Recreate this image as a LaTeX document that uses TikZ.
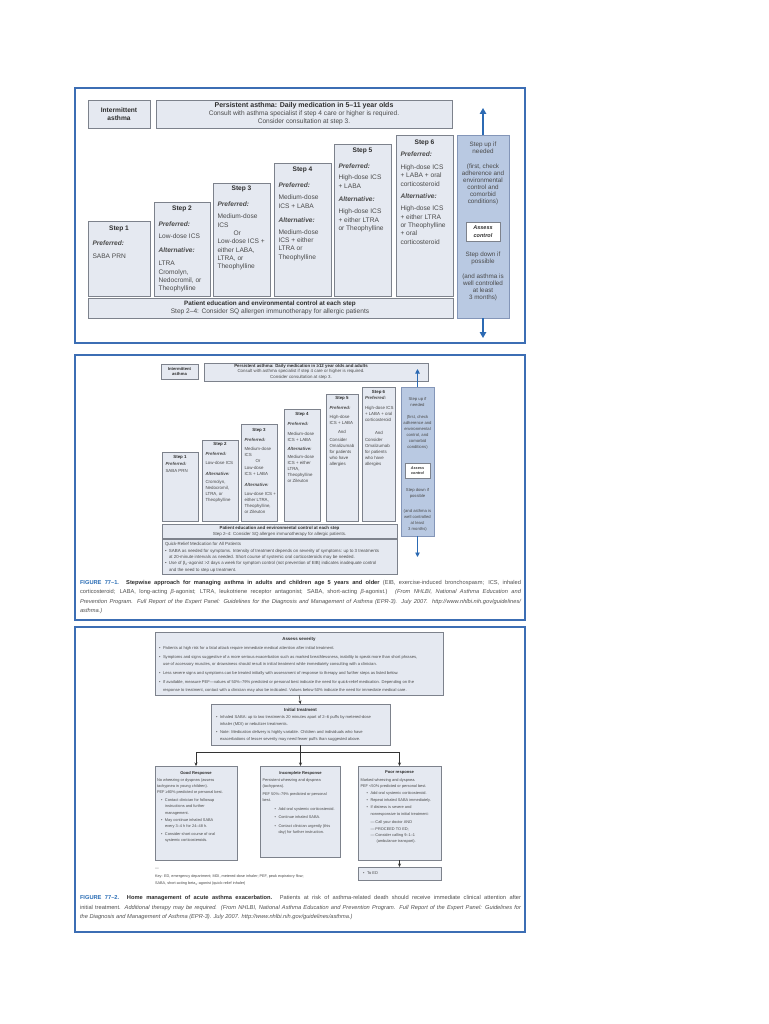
\documentclass[tikz,border=0pt]{standalone}
\usepackage{fontspec}
\setmainfont{Liberation Sans}
\usetikzlibrary{arrows.meta}
\definecolor{panelblue}{HTML}{3C6EB4}
\definecolor{arrowblue}{HTML}{2C6AB3}
\definecolor{boxfill}{HTML}{E5E9F1}
\definecolor{boxline}{HTML}{7D828C}
\definecolor{colfill}{HTML}{B9C9E2}
\definecolor{colline}{HTML}{8496B8}
\definecolor{txt}{HTML}{4A4A4A}
\definecolor{dtxt}{HTML}{2E2E2E}
\definecolor{captxt}{HTML}{505050}
\definecolor{figblue}{HTML}{2A6DB5}
\definecolor{conn}{HTML}{333333}
\newcommand{\fz}[2]{\fontsize{#1pt}{#2pt}\selectfont}
\newcommand{\bx}[6]{\node[#2,anchor=north west,minimum width={(#5-#3)*1pt},minimum height={(#6-#4)*1pt}] (#1) at (#3,#4) {};}
\newcommand{\prefx}{\textbf{\textit{Preferred:}}}
\newcommand{\altx}{\textbf{\textit{Alternative:}}}
\newcommand{\bul}{\makebox[4pt][l]{•}}
\begin{document}
\begin{tikzpicture}[x=1pt,y=-1pt,
 every node/.style={inner sep=0pt,outer sep=0pt,text=txt},
 panel/.style={draw=panelblue,line width=1.1pt},
 gbox/.style={draw=boxline,fill=boxfill,line width=0.8pt},
 gboxs/.style={draw=boxline,fill=boxfill,line width=0.6pt},
 colbox/.style={draw=colline,fill=colfill,line width=0.8pt},
 wbox/.style={draw=boxline,fill=white,line width=0.6pt},
 hdA/.style={font=\fz{6.6}{8.3}\bfseries,text=dtxt},
 bodyA/.style={anchor=north west,align=left,font=\fz{6.6}{8.3}},
 hdB/.style={font=\fz{4.4}{6}\bfseries,text=dtxt},
 bodyB/.style={anchor=north west,align=left,font=\fz{4.4}{6}},
 hdC/.style={font=\fz{4.4}{5}\bfseries,text=dtxt},
 hdD/.style={font=\fz{4.1}{5}\bfseries,text=dtxt},
 bodyD/.style={anchor=north west,align=left,font=\fz{3.9}{6.4}},
 bigarrow/.style={draw=arrowblue,line width=1.3pt,-{Triangle[length=6pt,width=6.5pt]}},
 medarrow/.style={draw=arrowblue,line width=0.9pt,-{Triangle[length=4.5pt,width=4.5pt]}},
 smallarrow/.style={draw=conn,line width=0.5pt,-{Stealth[length=3.5pt,width=3pt]}},
 thinline/.style={draw=conn,line width=0.5pt},
 captext/.style={anchor=north west,text width=441pt,align=justify,font=\fz{5.7}{9.4},text=captxt}
]
\fill[white] (0,0) rectangle (768,1024);
\useasboundingbox (0,0) rectangle (768,1024);

% ================= Panel 1 =================
\bx{p1}{panel}{75}{88}{525}{343}
\bx{int1}{gbox}{88}{100}{150}{128}
\node[font=\fz{6.6}{8}\bfseries,text=dtxt,align=center] (int1t) at (119,114) {Intermittent\\asthma};
\bx{per1}{gbox}{156}{100}{452}{128}
\node[align=center,font=\fz{6.6}{8}] (per1t) at (304,113.5) {{\fz{7}{8}\bfseries\color{dtxt}Persistent asthma: Daily medication in 5–11 year olds}\\Consult with asthma specialist if step 4 care or higher is required.\\Consider consultation at step 3.};

\bx{s1}{gbox}{88}{221}{150}{296}
\bx{s2}{gbox}{154}{202}{210}{296}
\bx{s3}{gbox}{213}{183}{270}{296}
\bx{s4}{gbox}{274}{163}{331}{296}
\bx{s5}{gbox}{334}{144}{391}{296}
\bx{s6}{gbox}{396}{135}{453}{296}
\bx{edu1}{gbox}{88}{298}{453}{318}
\bx{col1}{colbox}{457}{135}{509}{318}
\bx{ac1}{wbox}{466}{222}{500}{241}

\node[hdA] (s1h) at (119,229) {Step 1};
\node[hdA] (s2h) at (182,209) {Step 2};
\node[hdA] (s3h) at (241.5,189) {Step 3};
\node[hdA] (s4h) at (302.5,170) {Step 4};
\node[hdA] (s5h) at (362.5,151) {Step 5};
\node[hdA] (s6h) at (424.5,143) {Step 6};

\node[bodyA] (s1b) at (92.5,241.2) {\prefx\\[4.7pt]SABA PRN};
\node[bodyA] (s2b) at (158.5,222.2) {\prefx\\[3.7pt]Low-dose ICS\\[5.7pt]\altx\\[4.7pt]LTRA\\Cromolyn,\\Nedocromil, or\\Theophylline};
\node[bodyA] (s3b) at (217.5,202.2) {\prefx\\[3.7pt]Medium-dose\\ICS\\\hspace*{16pt}Or\\Low-dose ICS +\\either LABA,\\LTRA, or\\Theophylline};
\node[bodyA] (s4b) at (278.5,183.2) {\prefx\\[3.7pt]Medium-dose\\ICS + LABA\\[5.7pt]\altx\\[3.7pt]Medium-dose\\ICS + either\\LTRA or\\Theophylline};
\node[bodyA] (s5b) at (338.5,164.2) {\prefx\\[2.7pt]High-dose ICS\\+ LABA\\[5.4pt]\altx\\[3.7pt]High-dose ICS\\+ either LTRA\\or Theophylline};
\node[bodyA] (s6b) at (400.5,152.2) {\prefx\\[4.2pt]High-dose ICS\\+ LABA + oral\\corticosteroid\\[4.6pt]\altx\\[3.7pt]High-dose ICS\\+ either LTRA\\or Theophylline\\+ oral\\corticosteroid};

\node[align=center,font=\fz{6.6}{8.5}] (edu1t) at (270,307.8) {{\fz{6.3}{8.5}\bfseries\color{dtxt}Patient education and environmental control at each step}\\Step 2–4: Consider SQ allergen immunotherapy for allergic patients};

\node[anchor=north,align=center,font=\fz{6.3}{7}] (col1a) at (483,142.3) {Step up if\\needed\\[8pt](first, check\\adherence and\\environmental\\control and\\comorbid\\conditions)};
\node[font=\fz{5.5}{7.5}\bfseries\itshape,text=dtxt,align=center] (ac1t) at (483,231.5) {Assess\\control};
\node[anchor=north,align=center,font=\fz{6.3}{7}] (col1b) at (483,252.3) {Step down if\\possible\\[8pt](and asthma is\\well controlled\\at least\\3 months)};
\coordinate (up1) at (483,108);
\coordinate (dn1) at (483,338);
\draw[bigarrow] (col1.north) -- (up1);
\draw[bigarrow] (col1.south) -- (dn1);

% ================= Panel 2 =================
\bx{p2}{panel}{75}{355}{525}{620}
\bx{int2}{gboxs}{161}{364}{198}{379}
\node[font=\fz{4.2}{5.6}\bfseries,text=dtxt,align=center] (int2t) at (179.5,371.5) {Intermittent\\asthma};
\bx{per2}{gboxs}{204}{363}{428}{381}
\node[align=center,font=\fz{4.4}{5.5}] (per2t) at (301,371.5) {{\bfseries\color{dtxt}Persistent asthma: Daily medication in ≥12 year olds and adults}\\Consult with asthma specialist if step 4 care or higher is required.\\Consider consultation at step 3.};

\bx{m1}{gboxs}{162}{452}{198}{521}
\bx{m2}{gboxs}{202}{440}{238}{521}
\bx{m3}{gboxs}{241}{424}{277}{521}
\bx{m4}{gboxs}{284}{409}{320}{521}
\bx{m5}{gboxs}{326}{394}{358}{521}
\bx{m6}{gboxs}{362}{387}{395}{521}
\bx{edu2}{gboxs}{162}{524}{397}{538}
\bx{qr2}{gboxs}{162}{539}{397}{574}
\bx{col2}{colbox}{401}{387}{434}{536}
\bx{ac2}{wbox}{405}{463}{430}{478}

\node[hdB] (m1h) at (180,457) {Step 1};
\node[hdB] (m2h) at (220,444.5) {Step 2};
\node[hdB] (m3h) at (259,430) {Step 3};
\node[hdB] (m4h) at (302,414) {Step 4};
\node[hdB] (m5h) at (342,398.5) {Step 5};
\node[hdB] (m6h) at (378.5,392) {Step 6};

\node[bodyB] (m1b) at (165.5,462.6) {\prefx\\[0.5pt]SABA PRN};
\node[bodyB] (m2b) at (205.5,452.1) {\prefx\\[3.5pt]Low-dose ICS\\[4.5pt]\altx\\[2.5pt]Cromolyn,\\Nedocromil,\\LTRA, or\\Theophylline};
\node[bodyB] (m3b) at (244.5,438.1) {\prefx\\[3pt]Medium-dose\\ICS\\\hspace*{11pt}Or\\[1.5pt]Low-dose\\ICS + LABA\\[5pt]\altx\\[3pt]Low-dose ICS +\\either LTRA,\\Theophylline,\\or Zileuton};
\node[bodyB] (m4b) at (287.5,422.1) {\prefx\\[4pt]Medium-dose\\ICS + LABA\\[3pt]\altx\\[2.5pt]Medium-dose\\ICS + either\\LTRA,\\Theophylline\\or Zileuton};
\node[bodyB] (m5b) at (329.5,406.1) {\prefx\\[3.5pt]High-dose\\ICS + LABA\\[3pt]\hspace*{8.5pt}And\\[1.5pt]Consider\\Omalizumab\\for patients\\who have\\allergies};
\node[bodyB] (m6b) at (365,396.6) {\prefx\\[3.5pt]High-dose ICS\\+ LABA + oral\\corticosteroid\\[7.5pt]\hspace*{10pt}And\\[0.5pt]Consider\\Omalizumab\\for patients\\who have\\allergies};

\node[align=center,font=\fz{4.4}{6}] (edu2t) at (279.5,531) {{\bfseries\color{dtxt}Patient education and environmental control at each step}\\Step 2–4: Consider SQ allergen immunotherapy for allergic patients.};
\node[anchor=north west,align=left,font=\fz{4.4}{6.4}] (qr2t) at (165,542.6) {Quick-Relief Medication for All Patients\\\bul SABA as needed for symptoms. Intensity of treatment depends on severity of symptoms: up to 3 treatments\\\hspace*{4pt}at 20-minute intervals as needed. Short course of systemic oral corticosteroids may be needed.\\\bul Use of β\textsubscript{2}-agonist >2 days a week for symptom control (not prevention of EIB) indicates inadequate control\\\hspace*{4pt}and the need to step up treatment.};

\node[anchor=north,align=center,font=\fz{4.2}{6}] (col2a) at (417.5,397.2) {Step up if\\needed\\[6.5pt](first, check\\adherence and\\environmental\\control, and\\comorbid\\conditions)};
\node[font=\fz{3.8}{5.5}\bfseries\itshape,text=dtxt,align=center] (ac2t) at (417.5,470.5) {Assess\\control};
\node[anchor=north,align=center,font=\fz{4.2}{6}] (col2b) at (417.5,488.2) {Step down if\\possible\\[9pt](and asthma is\\well controlled\\at least\\3 months)};
\coordinate (up2) at (417.5,369);
\coordinate (dn2) at (417.5,557);
\draw[medarrow] (col2.north) -- (up2);
\draw[medarrow] (col2.south) -- (dn2);

\node[captext] (cap1) at (80,580.3) {\textcolor{figblue}{\textbf{FIGURE 77–1.}} \textbf{\color{dtxt}Stepwise approach for managing asthma in adults and children age 5 years and older} (EIB, exercise-induced bronchospasm; ICS, inhaled\linebreak corticosteroid; LABA, long-acting \textit{β}-agonist; LTRA, leukotriene receptor antagonist; SABA, short-acting \textit{β}-agonist.) \textit{(From NHLBI, National Asthma Education and\linebreak Prevention Program. Full Report of the Expert Panel: Guidelines for the Diagnosis and Management of Asthma (EPR-3). July 2007. http://www.nhlbi.nih.gov/guidelines/\linebreak asthma.)}};

% ================= Panel 3 =================
\bx{p3}{panel}{75}{627}{525}{932}
\bx{sev}{gboxs}{155}{632}{443}{695}
\node[hdC] (sevh) at (299,639) {Assess severity};
\node[anchor=north west,align=left,font=\fz{4.1}{7.8}] (sevb) at (159,646.3) {\bul Patients at high risk for a fatal attack require immediate medical attention after initial treatment.\\[1pt]\bul Symptoms and signs suggestive of a more serious exacerbation such as marked breathlessness, inability to speak more than short phrases,\\\hspace*{4pt}use of accessory muscles, or drowsiness should result in initial treatment while immediately consulting with a clinician.\\[1.2pt]\bul Less severe signs and symptoms can be treated initially with assessment of response to therapy and further steps as listed below.\\[1pt]\bul If available, measure PEF—values of 50\%–79\% predicted or personal best indicate the need for quick-relief medication. Depending on the\\\hspace*{4pt}response to treatment, contact with a clinician may also be indicated. Values below 50\% indicate the need for immediate medical care.};

\bx{init}{gboxs}{211}{704}{390}{745}
\node[hdC] (inith) at (300.5,710) {Initial treatment};
\node[anchor=north west,align=left,font=\fz{4.1}{7}] (initb) at (216,715.3) {\bul Inhaled SABA: up to two treatments 20 minutes apart of 2–6 puffs by metered-dose\\\hspace*{4pt}inhaler (MDI) or nebulizer treatments.\\[1pt]\bul Note: Medication delivery is highly variable. Children and individuals who have\\\hspace*{4pt}exacerbations of lesser severity may need fewer puffs than suggested above.};

\bx{good}{gboxs}{155}{766}{237}{860}
\bx{incomp}{gboxs}{260.5}{766}{340.5}{857}
\bx{poor}{gboxs}{358}{766}{441}{860}
\bx{toed}{gboxs}{358}{867}{441}{880}

\draw[smallarrow] (sev.south) -- (init.north);
\coordinate (jn) at (300.5,752);
\draw[thinline] (init.south) -- (jn);
\draw[smallarrow] (jn) -| (good.north);
\draw[smallarrow] (jn) -- (incomp.north);
\draw[smallarrow] (jn) -| (poor.north);
\draw[smallarrow] (poor.south) -- (toed.north);

\node[hdD] (goodh) at (196,773) {Good Response};
\node[bodyD] (goodb) at (157,778.3) {No wheezing or dyspnea (assess\\tachypnea in young children).\\PEF ≥80\% predicted or personal best.\\[1pt]\hspace*{4pt}\bul Contact clinician for followup\\\hspace*{8pt}instructions and further\\\hspace*{8pt}management.\\[1pt]\hspace*{4pt}\bul May continue inhaled SABA\\\hspace*{8pt}every 3–4 h for 24–48 h.\\[1pt]\hspace*{4pt}\bul Consider short course of oral\\\hspace*{8pt}systemic corticosteroids.};

\node[hdD] (incomph) at (300.5,773) {Incomplete Response};
\node[bodyD] (incompb) at (262.5,778.3) {Persistent wheezing and dyspnea\\(tachypnea).\\[1.2pt]PEF 50\%–79\% predicted or personal\\best.\\[2.8pt]\hspace*{12pt}\bul Add oral systemic corticosteroid.\\[1pt]\hspace*{12pt}\bul Continue inhaled SABA.\\[2.5pt]\hspace*{12pt}\bul Contact clinician urgently (this\\\hspace*{16pt}day) for further instruction.};

\node[hdD] (poorh) at (399.5,773) {Poor response};
\node[bodyD] (poorb) at (360.5,778.3) {Marked wheezing and dyspnea.\\PEF <50\% predicted or personal best.\\[0.7pt]\hspace*{6pt}\bul Add oral systemic corticosteroid.\\[0.7pt]\hspace*{6pt}\bul Repeat inhaled SABA immediately.\\[0.7pt]\hspace*{6pt}\bul If distress is severe and\\\hspace*{10pt}nonresponsive to initial treatment:\\[2pt]\hspace*{10pt}— Call your doctor AND\\\hspace*{10pt}— PROCEED TO ED;\\\hspace*{10pt}— Consider calling 9–1–1\\\hspace*{16pt}(ambulance transport).};

\node[anchor=west,font=\fz{4}{5}] (toedt) at (363,873.5) {\bul To ED};

\node[anchor=west,font=\fz{3.8}{5}] (keydash) at (155,868.5) {—};
\node[anchor=north west,align=left,font=\fz{3.8}{7}] (key) at (155,874.4) {Key: ED, emergency department; MDI, metered-dose inhaler; PEF, peak expiratory flow;\\SABA, short-acting beta\textsubscript{2}-agonist (quick-relief inhaler)};

\node[captext] (cap2) at (80,895.5) {\textcolor{figblue}{\textbf{FIGURE 77–2.}} \textbf{\color{dtxt}Home management of acute asthma exacerbation.} Patients at risk of asthma-related death should receive immediate clinical attention after\linebreak initial treatment. \textit{Additional therapy may be required. (From NHLBI, National Asthma Education and Prevention Program. Full Report of the Expert Panel: Guidelines for\linebreak the Diagnosis and Management of Asthma (EPR-3). July 2007. http://www.nhlbi.nih.gov/guidelines/asthma.)}};
\end{tikzpicture}
\end{document}
